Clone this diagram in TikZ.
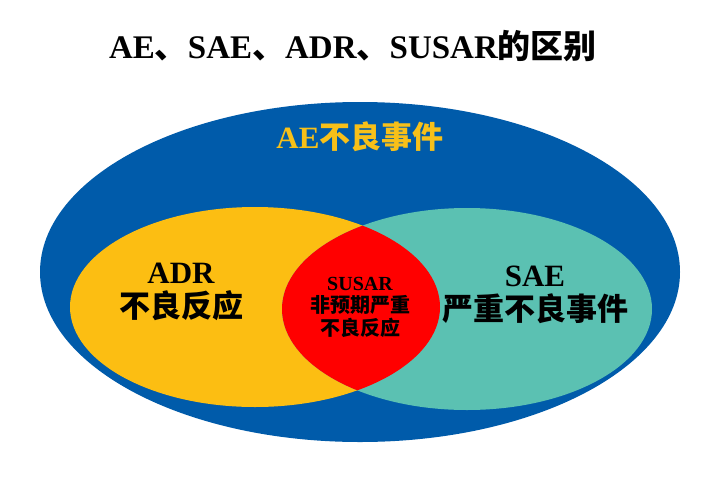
\documentclass[tikz,border=0pt]{standalone}
\usepackage{fontspec}
\setmainfont{Liberation Serif}
\newfontfamily\cjk{Noto Sans CJK SC}
\usetikzlibrary{positioning}
\definecolor{aeblue}{RGB}{0,91,170}
\definecolor{adryellow}{RGB}{252,190,18}
\definecolor{saeteal}{RGB}{91,193,178}
\definecolor{susarred}{RGB}{255,0,0}
\definecolor{aegold}{RGB}{247,192,25}
\newcommand{\zhtext}[1]{{\cjk #1}}

\begin{document}
\begin{tikzpicture}[x=1pt, y=-1pt, every node/.style={align=center, inner sep=0pt},
    titletext/.style={font=\fontsize{33}{36}\selectfont\bfseries},
    aetext/.style={font=\fontsize{31}{32}\selectfont\bfseries, text=aegold},
    circletext/.style={font=\fontsize{31}{34}\selectfont\bfseries},
    lenstext/.style={font=\fontsize{20}{22.5}\selectfont\bfseries}]
        \useasboundingbox (0,0) rectangle (720,480);
        \fill[aeblue]    (360,272) ellipse [x radius=320, y radius=170];
        \fill[adryellow] (255,307) ellipse [x radius=185, y radius=100];
        \fill[saeteal]   (467,309) ellipse [x radius=185, y radius=101];
        \begin{scope}
            \clip (255,307) ellipse [x radius=185, y radius=100];
            \fill[susarred] (467,309) ellipse [x radius=185, y radius=101];
        \end{scope}

        \node[titletext]  (title) at (353,46)  {AE\zhtext{、}SAE\zhtext{、}ADR\zhtext{、}SUSAR\zhtext{的区别}};
        \node[aetext]     (ae)    at (360,137) {AE\zhtext{不良事件}};
        \node[circletext] (adr)   at (181,292) {ADR\\\zhtext{不良反应}};
        \node[circletext] (sae)   at (535,295) {SAE\\\zhtext{严重不良事件}};
        \node[lenstext]   (susar) at (360,307) {SUSAR\\\zhtext{非预期严重}\\\zhtext{不良反应}};
\end{tikzpicture}
\end{document}
